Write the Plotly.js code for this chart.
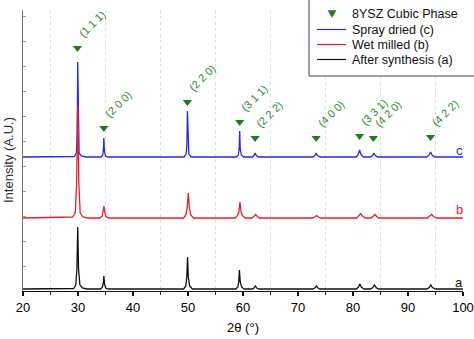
<!DOCTYPE html>
<html>
<head>
<meta charset="utf-8">
<script src="https://cdn.plot.ly/plotly-3.0.1.min.js"></script>
<style>html,body{margin:0;padding:0;background:#fff;}#chart{width:474px;height:339px;}</style>
</head>
<body>
<div id="chart"></div>
<script>
// ---- Data (intensity relative to each pattern's own baseline, arbitrary units) ----
const xC = [20, 29.3, 29.7, 29.85, 29.95, 30.05, 30.2, 30.6, 31.5,
  34.2, 34.5, 34.62, 34.7, 34.8, 35.0, 35.5,
  49.3, 49.65, 49.8, 49.9, 50.0, 50.15, 50.6,
  58.8, 59.15, 59.3, 59.4, 59.5, 59.7, 60.1,
  61.7, 62.0, 62.2, 62.4, 62.8,
  72.7, 73.05, 73.3, 73.55, 74.0,
  80.6, 80.95, 81.2, 81.45, 81.9,
  83.2, 83.55, 83.8, 84.05, 84.5,
  93.4, 93.8, 94.1, 94.4, 94.9,
  100];
const yC = [0, 0.5, 4, 25, 95, 25, 4, 1, 0,
  0, 2, 8, 19, 6, 1, 0,
  0, 3, 12, 46, 12, 3, 0,
  0, 2, 8, 26, 8, 2, 0,
  0, 1.5, 4, 1.5, 0,
  0, 1.5, 4, 1.5, 0,
  0, 2.5, 7, 2.5, 0,
  0, 1.5, 4, 1.5, 0,
  0, 1.8, 5, 1.8, 0,
  0];

const xB = [20, 29.0, 29.5, 29.75, 29.95, 30.15, 30.4, 30.9, 31.8,
  34.0, 34.4, 34.58, 34.72, 34.88, 35.1, 35.6,
  49.2, 49.6, 49.85, 50.05, 50.25, 50.5, 51.0,
  58.6, 59.0, 59.25, 59.45, 59.65, 59.9, 60.4,
  61.6, 62.0, 62.3, 62.6, 63.0,
  72.7, 73.1, 73.4, 73.7, 74.1,
  80.7, 81.1, 81.4, 81.7, 82.2,
  83.3, 83.7, 84.0, 84.3, 84.7,
  93.5, 93.95, 94.3, 94.65, 95.2,
  100];
const yB = [0, 1, 5, 35, 113, 35, 5, 1, 0,
  0, 2, 6, 12, 5, 1.5, 0,
  0, 3, 10, 25, 10, 3, 0,
  0, 2.5, 6, 16, 6, 2.5, 0,
  0, 1.5, 3.5, 1.5, 0,
  0, 1, 2.5, 1, 0,
  0, 2, 4.5, 2, 0,
  0, 1.5, 3.5, 1.5, 0,
  0, 1.5, 3.5, 1.5, 0,
  0];

const xA = [20, 29.2, 29.6, 29.8, 29.95, 30.1, 30.35, 30.8, 31.6,
  34.1, 34.45, 34.6, 34.7, 34.82, 35.05, 35.5,
  49.2, 49.6, 49.78, 49.92, 50.06, 50.3, 50.8,
  58.7, 59.05, 59.22, 59.35, 59.5, 59.75, 60.2,
  61.7, 62.0, 62.25, 62.5, 62.9,
  72.7, 73.05, 73.35, 73.65, 74.0,
  80.6, 81.0, 81.25, 81.5, 82.0,
  83.2, 83.6, 83.9, 84.2, 84.6,
  93.4, 93.85, 94.15, 94.45, 95.0,
  100];
const yA = [0, 0.5, 4, 20, 62, 20, 4, 1, 0,
  0, 2, 6, 13, 5, 1, 0,
  0, 3, 12, 32, 12, 3, 0,
  0, 2, 7, 19, 7, 2, 0,
  0, 1, 3, 1, 0,
  0, 1, 3, 1, 0,
  0, 2, 5, 2, 0,
  0, 1.5, 4, 1.5, 0,
  0, 1.5, 4, 1.5, 0,
  0];

// vertical offsets of the stacked patterns
const offsetA = 2, offsetB = 73, offsetC = 134;

// 8YSZ cubic phase reflections
const phaseX = [29.9, 34.7, 49.9, 59.4, 62.2, 73.3, 81.2, 83.7, 94.1];
const phaseY = [243, 163, 189, 169, 153, 153, 155, 153, 154];
const phaseLabels = ["(1 1 1)", "(2 0 0)", "(2 2 0)", "(3 1 1)", "(2 2 2)", "(4 0 0)", "(3 3 1)", "(4 2 0)", "(4 2 2)"];

const phaseName = "8YSZ Cubic Phase";
const seriesNames = ["Spray dried (c)", "Wet milled (b)", "After synthesis (a)"];
const seriesTags = ["c", "b", "a"];
const xTickVals = [20, 30, 40, 50, 60, 70, 80, 90, 100];

// ---- Chart ----
const FONT = 'Liberation Sans, Arial, sans-serif';
const green = '#1e7b1e';
const colors = ['#2a2ad8', '#e8202a', '#111111'];
const add = (arr, o) => arr.map(v => v + o);

// plot area in pixels: left 23, right 463, top 10, bottom 291
const PL = 23, PW = 440, PB = 291, PH = 281;
const px = p => (p - PL) / PW;
const py = p => (PB - p) / PH;

const traces = [
  {x: phaseX, y: phaseY, mode: 'markers', name: phaseName,
   marker: {symbol: 'triangle-down', size: 8, color: green}},
  {x: xC, y: add(yC, offsetC), mode: 'lines', name: seriesNames[0], line: {color: colors[0], width: 1.3}},
  {x: xB, y: add(yB, offsetB), mode: 'lines', name: seriesNames[1], line: {color: colors[1], width: 1.3}},
  {x: xA, y: add(yA, offsetA), mode: 'lines', name: seriesNames[2], line: {color: colors[2], width: 1.3}}
];

const annotations = phaseLabels.map((t, i) => ({
  x: phaseX[i], y: phaseY[i], xref: 'x', yref: 'y', text: t, showarrow: false,
  textangle: -45, xanchor: 'left', yanchor: 'bottom', xshift: -4, yshift: 6,
  font: {family: FONT, size: 11, color: '#2a8a2a'}
}));
const tagY = [offsetC + 7, offsetB + 9, offsetA + 7];
seriesTags.forEach((t, i) => annotations.push({
  x: 99.3, y: tagY[i], xref: 'x', yref: 'y', text: t, showarrow: false,
  xanchor: 'center', yanchor: 'middle',
  font: {family: FONT, size: 13, color: colors[i]}
}));
// y-axis title
annotations.push({x: px(8), y: py(160), xref: 'paper', yref: 'paper', text: 'Intensity (A.U.)',
  textangle: -90, showarrow: false, xanchor: 'center', yanchor: 'middle',
  font: {family: FONT, size: 13, color: '#333'}});

// legend (drawn by hand to match the compact original spacing)
const shapes = [
  {type: 'rect', xref: 'paper', yref: 'paper', x0: px(309), x1: px(482), y0: py(76), y1: py(-3),
   line: {color: '#444', width: 1}, fillcolor: '#fff', layer: 'above'}
];
const rowY = [14, 29.5, 44.5, 59.5];
const legendNames = [phaseName].concat(seriesNames);
shapes.push({type: 'path', xref: 'paper', yref: 'paper', layer: 'above',
  path: `M ${px(328)} ${py(10.5)} L ${px(336)} ${py(10.5)} L ${px(332)} ${py(17.5)} Z`,
  fillcolor: green, line: {color: green, width: 0.5}});
for (let i = 0; i < 3; i++) {
  shapes.push({type: 'line', xref: 'paper', yref: 'paper', layer: 'above',
    x0: px(317), x1: px(346), y0: py(rowY[i + 1]), y1: py(rowY[i + 1]),
    line: {color: colors[i], width: 1.2}});
}
legendNames.forEach((t, i) => annotations.push({
  x: px(350), y: py(rowY[i]), xref: 'paper', yref: 'paper', text: t, showarrow: false,
  xanchor: 'left', yanchor: 'middle', font: {family: FONT, size: 12.5, color: '#111'}
}));

const layout = {
  width: 474, height: 339,
  margin: {l: PL, r: 474 - PL - PW, t: 10, b: 339 - PB},
  paper_bgcolor: '#fff', plot_bgcolor: '#fff',
  font: {family: FONT, color: '#111'},
  showlegend: false,
  xaxis: {
    range: [20, 100], tickvals: xTickVals, ticktext: xTickVals.map(String),
    showline: true, linecolor: '#111', linewidth: 1.3,
    ticks: 'outside', ticklen: 4, tickcolor: '#111', tickwidth: 1.3,
    tickfont: {size: 13, color: '#000'}, ticklabeloverflow: 'allow',
    showgrid: false, zeroline: false,
    minor: {tick0: 25, dtick: 10, ticks: 'outside', ticklen: 3, tickcolor: '#111',
      showgrid: true, gridcolor: '#dedede', griddash: 'dot', gridwidth: 1},
    title: {text: '2θ (°)', font: {size: 13, color: '#000'}, standoff: 9}
  },
  yaxis: {
    range: [0, 281], showline: true, linecolor: '#777', linewidth: 1.3,
    showticklabels: false, ticks: 'inside', ticklen: 3, tickcolor: '#999', dtick: 25,
    showgrid: false, zeroline: false
  },
  shapes: shapes,
  annotations: annotations
};

Plotly.newPlot('chart', traces, layout, {displayModeBar: false, staticPlot: true});
</script>
</body>
</html>
